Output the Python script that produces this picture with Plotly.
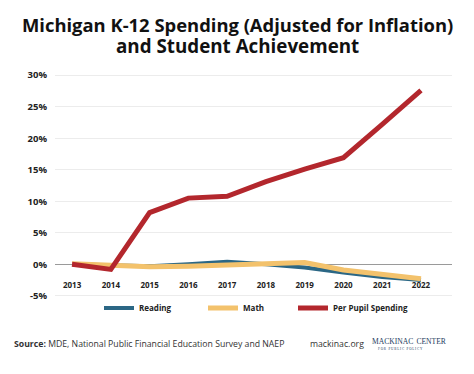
import plotly.graph_objects as go

years = ["2013", "2014", "2015", "2016", "2017", "2018", "2019", "2020", "2021", "2022"]
reading = [0.0, -0.1, -0.3, 0.0, 0.4, 0.0, -0.5, -1.3, -2.0, -2.5]
math_vals = [0.1, -0.2, -0.4, -0.3, -0.1, 0.1, 0.3, -0.9, -1.6, -2.3]
spending = [0.0, -0.8, 8.2, 10.5, 10.8, 13.1, 15.1, 16.9, 22.2, 27.6]
y_ticks = [-5, 0, 5, 10, 15, 20, 25, 30]
y_tick_labels = ["-5%", "0%", "5%", "10%", "15%", "20%", "25%", "30%"]

FONT = "Open Sans"
y_range = [-5.5, 30.5]

W, H = 466, 366  # page body has an 8px margin inside the 474x374 window
ML, MR, MT, MB = 47, 22, 64, 75
plot_w = W - ML - MR
plot_h = H - MT - MB


def px(fig_x):
    return (fig_x - ML) / plot_w


def py(fig_y):
    return (H - MB - fig_y) / plot_h


fig = go.Figure()
fig.add_trace(go.Scatter(x=years, y=reading, name="Reading", mode="lines", legend="legend",
                         line=dict(color="#2b6785", width=4)))
fig.add_trace(go.Scatter(x=years, y=math_vals, name="Math", mode="lines", legend="legend2",
                         line=dict(color="#f3c26c", width=5)))
fig.add_trace(go.Scatter(x=years, y=spending, name="Per Pupil Spending", mode="lines", legend="legend3",
                         line=dict(color="#b3272d", width=5)))

label_val = -2.3
xpos = (label_val - y_range[0]) / (y_range[1] - y_range[0])

leg_font = dict(family=FONT, size=8, color="#222222", weight="bold")


def leg(x):
    return dict(orientation="h", x=x, xanchor="left", y=py(300), yanchor="middle",
                font=leg_font, bgcolor="rgba(0,0,0,0)", borderwidth=0)


fig.update_layout(
    width=W, height=H,
    paper_bgcolor="white", plot_bgcolor="white",
    margin=dict(l=ML, r=MR, t=MT, b=MB),
    font=dict(family=FONT, color="#222222"),
    showlegend=True,
    legend=leg(px(91)),
    legend2=leg(px(195)),
    legend3=leg(px(285)),
    xaxis=dict(type="category", range=[-0.44, 9.8], showgrid=False, showline=False,
               zeroline=False, ticks="", anchor="free", position=xpos,
               tickfont=dict(family=FONT, size=8, color="#222222", weight="bold")),
    yaxis=dict(range=y_range, tickvals=y_ticks, ticktext=y_tick_labels,
               showgrid=True, gridcolor="#ececec", gridwidth=1,
               zeroline=True, zerolinecolor="#9a9a9a", zerolinewidth=1,
               showline=False, ticks="", ticklabelstandoff=7,
               tickfont=dict(family=FONT, size=9.5, color="#222222", weight="bold")),
)

title_x = px(229)
fig.add_annotation(xref="paper", yref="paper", x=title_x, y=py(17), xanchor="center", yanchor="middle",
                   text="<b>Michigan K-12 Spending (Adjusted for Inflation)</b>",
                   showarrow=False, font=dict(family=FONT, size=18.4, color="#111111"))
fig.add_annotation(xref="paper", yref="paper", x=title_x, y=py(38), xanchor="center", yanchor="middle",
                   text="<b>and Student Achievement</b>",
                   showarrow=False, font=dict(family=FONT, size=18.8, color="#111111"))

fig.add_annotation(xref="paper", yref="paper", x=px(4), y=py(336), xanchor="left", yanchor="middle",
                   text="<b>Source:</b> MDE, National Public Financial Education Survey and NAEP",
                   showarrow=False, font=dict(family=FONT, size=8.7, color="#333333"))
fig.add_annotation(xref="paper", yref="paper", x=px(300), y=py(336), xanchor="left", yanchor="middle",
                   text="mackinac.org",
                   showarrow=False, font=dict(family=FONT, size=8.7, color="#333333"))
fig.add_annotation(xref="paper", yref="paper", x=px(362), y=py(333), xanchor="left", yanchor="middle",
                   text="MACKINAC\u2009\u2009CENTER",
                   showarrow=False, font=dict(family="Liberation Serif", size=7.6, color="#243b5e"))
fig.add_annotation(xref="paper", yref="paper", x=px(368), y=py(341), xanchor="left", yanchor="middle",
                   text="F O R   P U B L I C   P O L I C Y",
                   showarrow=False, font=dict(family="Liberation Serif", size=3.3, color="#243b5e"))

fig.write_html("out.html")
